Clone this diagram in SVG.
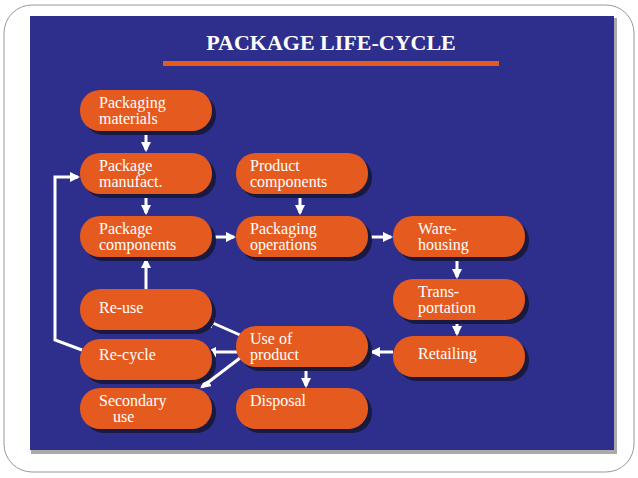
<svg xmlns="http://www.w3.org/2000/svg" width="638" height="478" viewBox="0 0 638 478">
<defs>
<style>
.n rect.b{fill:#e55a1f}
.n rect.s{fill:#1a1a40}
.n text{font-family:"Liberation Serif",serif;font-size:16px;fill:#fff}
.c line,.c polyline{stroke:#fff;stroke-width:3;fill:none}
</style>
<marker id="a" viewBox="0 0 10 10" refX="8" refY="5" markerWidth="3.5" markerHeight="3.5" orient="auto"><path d="M0,0L10,5L0,10z" fill="#fff"/></marker>
</defs>
<rect x="4" y="5" width="630" height="467" rx="28" fill="#fff" stroke="#999"/>
<rect x="31" y="18" width="586" height="436" fill="#aaa"/>
<rect x="30" y="16" width="584" height="434" fill="#2e2f8c"/>
<text x="331" y="50" text-anchor="middle" font-family="Liberation Serif,serif" font-weight="bold" font-size="22" fill="#fff">PACKAGE LIFE-CYCLE</text>
<rect x="163" y="61" width="336" height="5" fill="#e55a1f"/>
<g class="c">
<line x1="146" y1="131" x2="146" y2="150" marker-end="url(#a)"/>
<line x1="146" y1="194" x2="146" y2="213" marker-end="url(#a)"/>
<line x1="300" y1="194" x2="300" y2="213" marker-end="url(#a)"/>
<line x1="213" y1="237" x2="234" y2="237" marker-end="url(#a)"/>
<line x1="369" y1="237" x2="391" y2="237" marker-end="url(#a)"/>
<line x1="457" y1="258" x2="457" y2="277" marker-end="url(#a)"/>
<line x1="457" y1="321" x2="457" y2="334" marker-end="url(#a)"/>
<line x1="393" y1="352" x2="372" y2="352" marker-end="url(#a)"/>
<line x1="146" y1="289" x2="146" y2="260" marker-end="url(#a)"/>
<line x1="240" y1="335" x2="206" y2="320" marker-end="url(#a)"/>
<line x1="237" y1="352" x2="208" y2="352" marker-end="url(#a)"/>
<line x1="240" y1="358" x2="202" y2="387" marker-end="url(#a)"/>
<line x1="306" y1="369" x2="306" y2="386" marker-end="url(#a)"/>
<polyline points="82,350 55,340 55,177 78,177" marker-end="url(#a)"/>
</g>
<g id="n1" class="n"><rect class="s" x="84" y="94" width="132" height="41" rx="20"/><rect class="b" x="80" y="90" width="132" height="41" rx="20"/><text x="99" y="108">Packaging</text><text x="99" y="124">materials</text></g>
<g id="n2" class="n"><rect class="s" x="84" y="157" width="132" height="41" rx="20"/><rect class="b" x="80" y="153" width="132" height="41" rx="20"/><text x="99" y="171">Package</text><text x="99" y="187">manufact.</text></g>
<g id="n3" class="n"><rect class="s" x="240" y="157" width="132" height="41" rx="20"/><rect class="b" x="236" y="153" width="132" height="41" rx="20"/><text x="250" y="171">Product</text><text x="250" y="187">components</text></g>
<g id="n4" class="n"><rect class="s" x="84" y="220" width="132" height="41" rx="20"/><rect class="b" x="80" y="216" width="132" height="41" rx="20"/><text x="99" y="234">Package</text><text x="99" y="250">components</text></g>
<g id="n5" class="n"><rect class="s" x="240" y="220" width="132" height="41" rx="20"/><rect class="b" x="236" y="216" width="132" height="41" rx="20"/><text x="250" y="234">Packaging</text><text x="250" y="250">operations</text></g>
<g id="n6" class="n"><rect class="s" x="397" y="220" width="132" height="41" rx="20"/><rect class="b" x="393" y="216" width="132" height="41" rx="20"/><text x="418" y="234">Ware-</text><text x="418" y="250">housing</text></g>
<g id="n7" class="n"><rect class="s" x="397" y="283" width="132" height="41" rx="20"/><rect class="b" x="393" y="279" width="132" height="41" rx="20"/><text x="418" y="297">Trans-</text><text x="418" y="313">portation</text></g>
<g id="n8" class="n"><rect class="s" x="84" y="293" width="132" height="41" rx="20"/><rect class="b" x="80" y="289" width="132" height="41" rx="20"/><text x="99" y="313">Re-use</text></g>
<g id="n9" class="n"><rect class="s" x="240" y="330" width="132" height="41" rx="20"/><rect class="b" x="236" y="326" width="132" height="41" rx="20"/><text x="250" y="344">Use of</text><text x="250" y="360">product</text></g>
<g id="n10" class="n"><rect class="s" x="397" y="340" width="132" height="41" rx="20"/><rect class="b" x="393" y="336" width="132" height="41" rx="20"/><text x="418" y="359">Retailing</text></g>
<g id="n11" class="n"><rect class="s" x="84" y="343" width="132" height="41" rx="20"/><rect class="b" x="80" y="339" width="132" height="41" rx="20"/><text x="99" y="360">Re-cycle</text></g>
<g id="n12" class="n"><rect class="s" x="84" y="392" width="132" height="41" rx="20"/><rect class="b" x="80" y="388" width="132" height="41" rx="20"/><text x="99" y="406">Secondary</text><text x="113" y="422">use</text></g>
<g id="n13" class="n"><rect class="s" x="240" y="392" width="132" height="41" rx="20"/><rect class="b" x="236" y="388" width="132" height="41" rx="20"/><text x="250" y="406">Disposal</text></g>
</svg>
